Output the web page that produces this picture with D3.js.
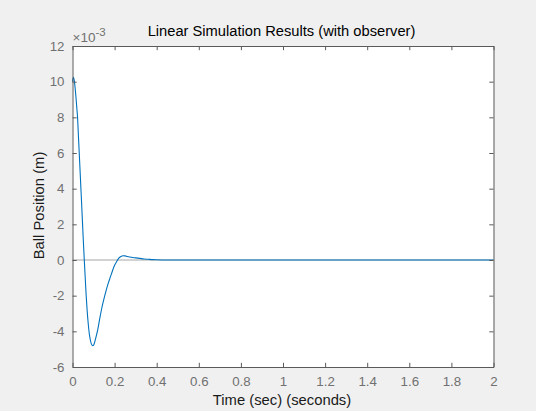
<!DOCTYPE html>
<html><head><meta charset="utf-8">
<script src="https://cdn.jsdelivr.net/npm/d3@7"></script>
<style>
html,body{margin:0;padding:0;background:#f0f0f0;}
svg{display:block;font-family:"Liberation Sans",Arial,Helvetica,sans-serif;}
</style></head><body>
<svg id="chart" width="536" height="411"></svg>
<script>
const timeSec = [0,0.004,0.008,0.012,0.016,0.02,0.024,0.028,0.032,0.036,0.04,0.044,0.048,0.052,0.056,0.06,0.065,0.07,0.075,0.08,0.085,0.09,0.095,0.1,0.105,0.11,0.12,0.13,0.14,0.15,0.16,0.17,0.18,0.19,0.2,0.21,0.22,0.23,0.24,0.25,0.26,0.28,0.3,0.32,0.34,0.36,0.38,0.4,0.45,0.5,0.6,0.8,1.0,1.2,1.4,1.6,1.8,2.0];
const ballPosMilli = [10.0,10.25,10.1,9.7,9.2,8.6,8.0,7.0,6.0,5.0,4.0,3.0,1.95,0.95,0.0,-0.9,-2.0,-2.9,-3.6,-4.15,-4.5,-4.72,-4.8,-4.78,-4.62,-4.4,-3.9,-3.25,-2.65,-2.15,-1.7,-1.3,-0.95,-0.6,-0.3,-0.08,0.1,0.2,0.24,0.23,0.2,0.15,0.12,0.09,0.06,0.04,0.02,0.01,0.0,0.0,0.0,0.0,0.0,0.0,0.0,0.0,0.0,0.0];
const xTicks = [0,0.2,0.4,0.6,0.8,1,1.2,1.4,1.6,1.8,2];
const yTicks = [-6,-4,-2,0,2,4,6,8,10,12];
const titleText = "Linear Simulation Results (with observer)";
const xLabel = "Time (sec) (seconds)";
const yLabel = "Ball Position (m)";

const svg = d3.select("#chart");
const L = 72.5, R = 493.5, T = 46, B = 367;
const x = d3.scaleLinear().domain([0,2]).range([L,R]);
const y = d3.scaleLinear().domain([-6,12]).range([B,T]);
const axisCol = "#5a5a5a", tickTextCol = "#707070";

svg.append("rect").attr("x",L).attr("y",T).attr("width",R-L).attr("height",B-T).attr("fill","#fff");

// zero reference line
svg.append("line").attr("x1",L).attr("x2",R).attr("y1",y(0)).attr("y2",y(0))
  .attr("stroke","#a6a6a6").attr("stroke-width",1);

// data line
const pts = timeSec.map((t,i)=>[t,ballPosMilli[i]]);
svg.append("path").datum(pts)
  .attr("d", d3.line().x(d=>x(d[0])).y(d=>y(d[1])).curve(d3.curveMonotoneX))
  .attr("fill","none").attr("stroke","#0072bd").attr("stroke-width",1.1);

// axes
const tl = 4.2;
const fmt = d => String(d);
const gB = svg.append("g").attr("transform",`translate(0,${B})`)
  .call(d3.axisBottom(x).tickValues(xTicks).tickFormat(fmt).tickSizeInner(-tl).tickSizeOuter(0).tickPadding(10));
const gT = svg.append("g").attr("transform",`translate(0,${T})`)
  .call(d3.axisTop(x).tickValues(xTicks).tickFormat("").tickSizeInner(-tl).tickSizeOuter(0));
const gL = svg.append("g").attr("transform",`translate(${L},0)`)
  .call(d3.axisLeft(y).tickValues(yTicks).tickFormat(fmt).tickSizeInner(-tl).tickSizeOuter(0).tickPadding(8));
const gR = svg.append("g").attr("transform",`translate(${R},0)`)
  .call(d3.axisRight(y).tickValues(yTicks).tickFormat("").tickSizeInner(-tl).tickSizeOuter(0));
[gB,gT,gL,gR].forEach(g=>{
  g.selectAll(".domain").attr("stroke",axisCol);
  g.selectAll(".tick line").attr("stroke",axisCol);
  g.selectAll("text").attr("fill",tickTextCol).attr("font-size",13.3).attr("font-family","Liberation Sans, Arial, sans-serif");
});
gL.selectAll("text").text(d => d<0 ? "-"+Math.abs(d) : String(d));

// exponent
const ex = svg.append("text").attr("x",L).attr("y",42).attr("fill",tickTextCol).attr("font-size",13.5);
ex.append("tspan").text("\u00d710");
ex.append("tspan").attr("dy",-6).attr("font-size",11.5).text("-3");

// title & labels
svg.append("text").attr("x",(L+R)/2 - 1.5).attr("y",36).attr("text-anchor","middle")
  .attr("font-size",14.7).attr("fill","#000").text(titleText);
svg.append("text").attr("x",(L+R)/2 - 1).attr("y",405).attr("text-anchor","middle")
  .attr("font-size",14.8).attr("fill","#1a1a1a").text(xLabel);
svg.append("text").attr("transform",`translate(44,${(T+B)/2 - 1}) rotate(-90)`).attr("text-anchor","middle")
  .attr("font-size",14.8).attr("fill","#1a1a1a").text(yLabel);
</script></body></html>
